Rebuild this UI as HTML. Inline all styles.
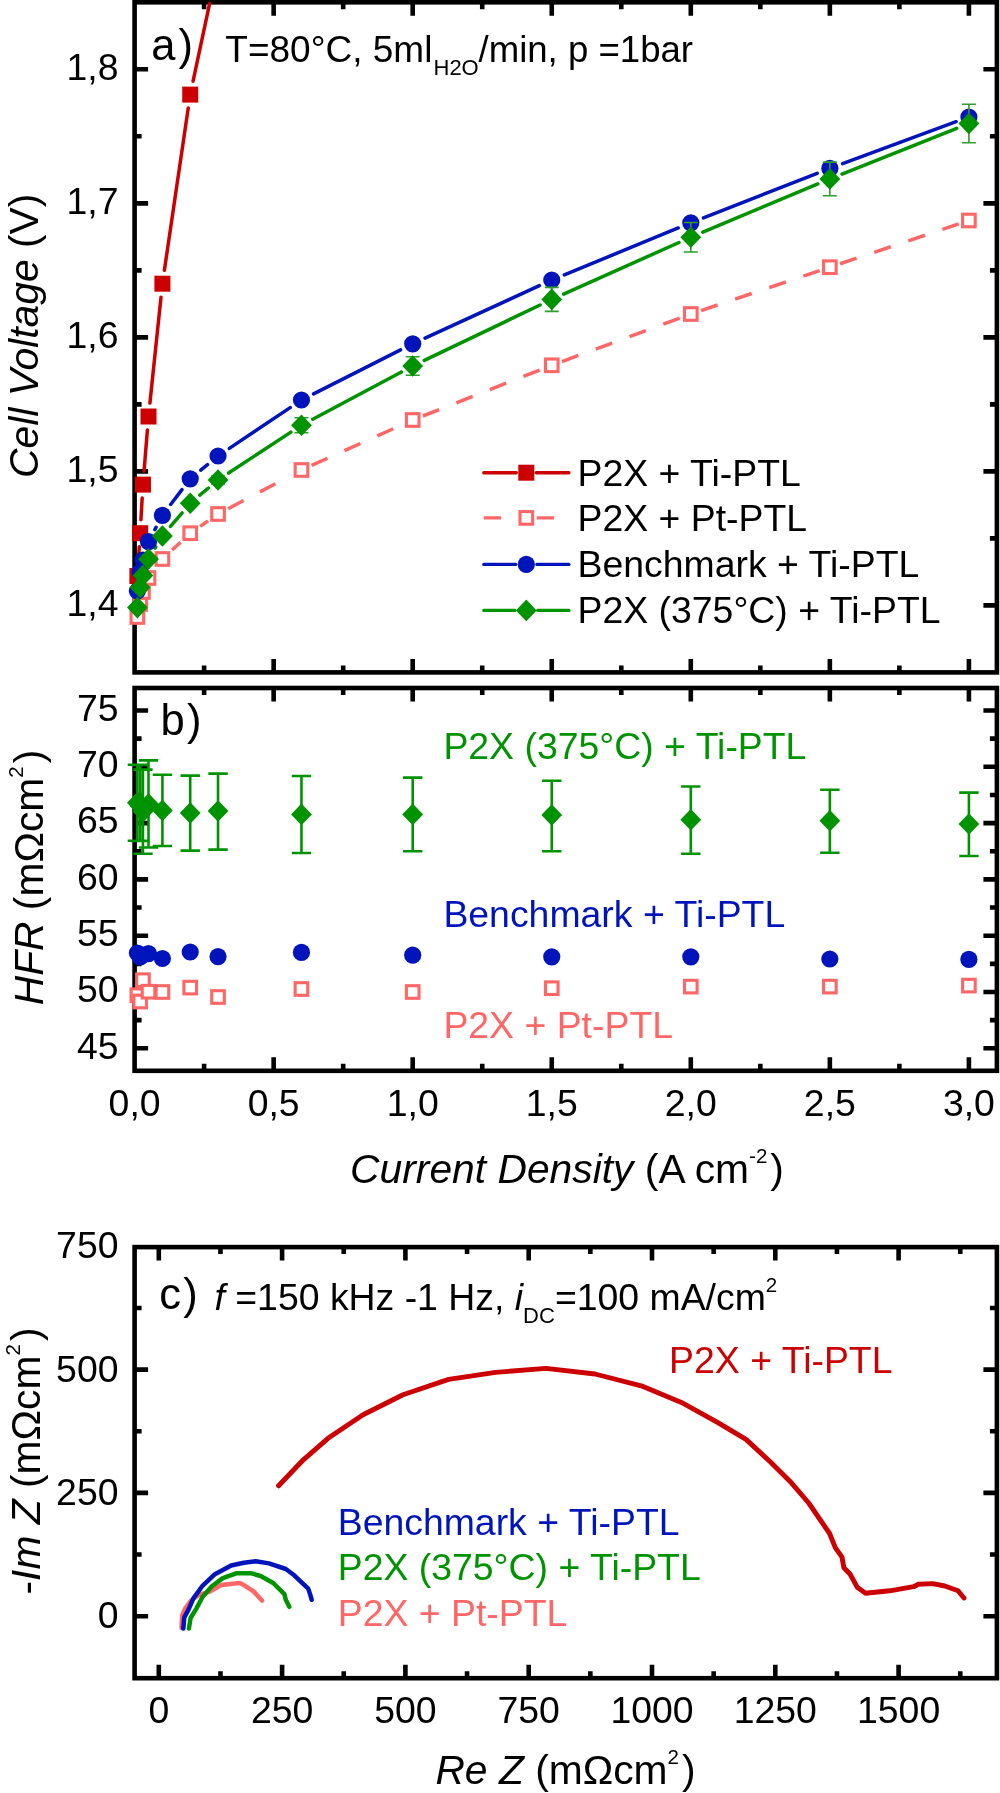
<!DOCTYPE html>
<html><head><meta charset="utf-8"><style>
html,body{margin:0;padding:0;background:#fff;}
svg{display:block;filter:blur(0.45px);}
text{font-family:"Liberation Sans",sans-serif;}
</style></head><body>
<svg width="1000" height="1793" viewBox="0 0 1000 1793">
<rect width="1000" height="1793" fill="#fff"/>
<clipPath id="ca"><rect x="137" y="2.3" width="857.6" height="667.8"/></clipPath>
<path d="M273.65 2.3v13.5M273.65 672.4v-13.5M412.7 2.3v13.5M412.7 672.4v-13.5M551.75 2.3v13.5M551.75 672.4v-13.5M690.8 2.3v13.5M690.8 672.4v-13.5M829.85 2.3v13.5M829.85 672.4v-13.5M968.9 2.3v13.5M968.9 672.4v-13.5M204.12 2.3v7.0M204.12 672.4v-7.0M343.18 2.3v7.0M343.18 672.4v-7.0M482.23 2.3v7.0M482.23 672.4v-7.0M621.28 2.3v7.0M621.28 672.4v-7.0M760.33 2.3v7.0M760.33 672.4v-7.0M899.38 2.3v7.0M899.38 672.4v-7.0" stroke="#000" stroke-width="4.6" fill="none"/>
<rect x="134.6" y="2.3" width="862.3" height="670.1" fill="none" stroke="#000" stroke-width="4.6"/>
<path d="M134.6 605.39h13.5M996.9 605.39h-13.5M134.6 471.37h13.5M996.9 471.37h-13.5M134.6 337.35h13.5M996.9 337.35h-13.5M134.6 203.33h13.5M996.9 203.33h-13.5M134.6 69.31h13.5M996.9 69.31h-13.5M134.6 538.38h7.0M996.9 538.38h-7.0M134.6 404.36h7.0M996.9 404.36h-7.0M134.6 270.34h7.0M996.9 270.34h-7.0M134.6 136.32h7.0M996.9 136.32h-7.0" stroke="#000" stroke-width="4.6" fill="none"/>
<text x="118.5" y="615.69" font-size="37.4" text-anchor="end" fill="#000" >1,4</text>
<text x="118.5" y="481.67" font-size="37.4" text-anchor="end" fill="#000" >1,5</text>
<text x="118.5" y="347.65" font-size="37.4" text-anchor="end" fill="#000" >1,6</text>
<text x="118.5" y="213.63" font-size="37.4" text-anchor="end" fill="#000" >1,7</text>
<text x="118.5" y="79.61" font-size="37.4" text-anchor="end" fill="#000" >1,8</text>
<text transform="translate(37.6 335.8) rotate(-90)" font-size="40.8" text-anchor="middle"><tspan font-style="italic">Cell Voltage</tspan> (V)</text>
<text x="151.3" y="59.7" font-size="43.5">a</text><text x="178.6" y="59.7" font-size="43.5">)</text>
<text x="225.3" y="62" font-size="37">T=80°C, 5ml</text>
<text x="433.5" y="75" font-size="22">H2O</text>
<text x="478.5" y="62" font-size="36.6">/min, p =1bar</text>
<g clip-path="url(#ca)">
<path d="M172.09 550.02L180.54 542.18" stroke="#ff6666" stroke-width="3.5" fill="none" stroke-dasharray="17.5 18.5" stroke-linecap="butt"/>
<path d="M200.13 526.36L208.12 520.84" stroke="#ff6666" stroke-width="3.5" fill="none" stroke-dasharray="17.5 18.5" stroke-linecap="butt"/>
<path d="M228.09 508.69L291.4 475.31" stroke="#ff6666" stroke-width="3.5" fill="none" stroke-dasharray="17.5 18.5" stroke-linecap="butt"/>
<path d="M311.59 465.45L402.57 424.55" stroke="#ff6666" stroke-width="3.5" fill="none" stroke-dasharray="17.5 18.5" stroke-linecap="butt"/>
<path d="M422.88 416L541.57 369.3" stroke="#ff6666" stroke-width="3.5" fill="none" stroke-dasharray="17.5 18.5" stroke-linecap="butt"/>
<path d="M561.95 361.54L680.6 317.76" stroke="#ff6666" stroke-width="3.5" fill="none" stroke-dasharray="17.5 18.5" stroke-linecap="butt"/>
<path d="M701.02 310.56L819.63 270.64" stroke="#ff6666" stroke-width="3.5" fill="none" stroke-dasharray="17.5 18.5" stroke-linecap="butt"/>
<path d="M840.07 263.77L958.68 223.93" stroke="#ff6666" stroke-width="3.5" fill="none" stroke-dasharray="17.5 18.5" stroke-linecap="butt"/>
<path d="M138.26 562.51L139.29 546.69M140.93 519.71L142.17 498.09M144.04 471.12L147.4 429.98M149.92 403.03L161 297.17M164.39 270.26L188.24 108.04M193.07 81.22L215.18 -22.62" stroke="#cc0000" stroke-width="3.5" fill="none" stroke-linecap="round"/>
<path d="M154.84 529.67L156.07 527.33M170.65 504.48L181.98 489.62M200.74 470.18L207.51 464.62M229.32 448.42L290.17 407.58M313.6 393.87L400.56 349.93M425.06 338.13L539.39 285.67M564.33 274.83L678.22 227.97M703.46 217.84L817.19 173.26M842.61 163.59L956.14 121.71" stroke="#0014bb" stroke-width="3.5" fill="none" stroke-linecap="round"/>
<path d="M155.1 548.09L155.81 546.91M170.51 526.44L182.12 512.76M199.83 495.19L208.42 488.01M228.58 473.07L290.91 432.13M312.75 419.19L401.41 372.01M424.33 360.43L540.12 304.97M563.58 294.11L678.97 242.49M702.82 232.16L817.83 183.94M842.01 174.05L956.74 128.35" stroke="#009300" stroke-width="3.5" fill="none" stroke-linecap="round"/>
</g>
<rect x="129.38" y="568" width="16" height="16" fill="#cc0000"/>
<rect x="132.16" y="525.2" width="16" height="16" fill="#cc0000"/>
<rect x="134.94" y="476.6" width="16" height="16" fill="#cc0000"/>
<rect x="140.5" y="408.5" width="16" height="16" fill="#cc0000"/>
<rect x="154.41" y="275.7" width="16" height="16" fill="#cc0000"/>
<rect x="182.22" y="86.6" width="16" height="16" fill="#cc0000"/>
<rect x="210.03" y="-44" width="16" height="16" fill="#cc0000"/>
<rect x="131.08" y="610.7" width="12.6" height="12.6" fill="#fff" stroke="#ff6666" stroke-width="3.1"/>
<rect x="133.86" y="597.7" width="12.6" height="12.6" fill="#fff" stroke="#ff6666" stroke-width="3.1"/>
<rect x="136.64" y="585.7" width="12.6" height="12.6" fill="#fff" stroke="#ff6666" stroke-width="3.1"/>
<rect x="142.2" y="571.7" width="12.6" height="12.6" fill="#fff" stroke="#ff6666" stroke-width="3.1"/>
<rect x="156.11" y="552.7" width="12.6" height="12.6" fill="#fff" stroke="#ff6666" stroke-width="3.1"/>
<rect x="183.92" y="526.9" width="12.6" height="12.6" fill="#fff" stroke="#ff6666" stroke-width="3.1"/>
<rect x="211.73" y="507.7" width="12.6" height="12.6" fill="#fff" stroke="#ff6666" stroke-width="3.1"/>
<rect x="295.16" y="463.7" width="12.6" height="12.6" fill="#fff" stroke="#ff6666" stroke-width="3.1"/>
<rect x="406.4" y="413.7" width="12.6" height="12.6" fill="#fff" stroke="#ff6666" stroke-width="3.1"/>
<rect x="545.45" y="359" width="12.6" height="12.6" fill="#fff" stroke="#ff6666" stroke-width="3.1"/>
<rect x="684.5" y="307.7" width="12.6" height="12.6" fill="#fff" stroke="#ff6666" stroke-width="3.1"/>
<rect x="823.55" y="260.9" width="12.6" height="12.6" fill="#fff" stroke="#ff6666" stroke-width="3.1"/>
<rect x="962.6" y="214.2" width="12.6" height="12.6" fill="#fff" stroke="#ff6666" stroke-width="3.1"/>
<circle cx="137.38" cy="591" r="8.6" fill="#0014bb"/>
<circle cx="140.16" cy="572" r="8.6" fill="#0014bb"/>
<circle cx="142.94" cy="560" r="8.6" fill="#0014bb"/>
<circle cx="148.5" cy="541.7" r="8.6" fill="#0014bb"/>
<circle cx="162.41" cy="515.3" r="8.6" fill="#0014bb"/>
<circle cx="190.22" cy="478.8" r="8.6" fill="#0014bb"/>
<circle cx="218.03" cy="456" r="8.6" fill="#0014bb"/>
<circle cx="301.46" cy="400" r="8.6" fill="#0014bb"/>
<circle cx="412.7" cy="343.8" r="8.6" fill="#0014bb"/>
<circle cx="551.75" cy="280" r="8.6" fill="#0014bb"/>
<circle cx="690.8" cy="222.8" r="8.6" fill="#0014bb"/>
<circle cx="829.85" cy="168.3" r="8.6" fill="#0014bb"/>
<circle cx="968.9" cy="117" r="8.6" fill="#0014bb"/>
<path d="M218.03 476V484M211.03 476h14M211.03 484h14M301.46 417.7V432.7M294.46 417.7h14M294.46 432.7h14M412.7 356.8V375.2M405.7 356.8h14M405.7 375.2h14M551.75 287.4V311.4M544.75 287.4h14M544.75 311.4h14M690.8 222.45V251.95M683.8 222.45h14M683.8 251.95h14M829.85 162.1V195.7M822.85 162.1h14M822.85 195.7h14M968.9 104.25V142.75M961.9 104.25h14M961.9 142.75h14" stroke="#2d9d2d" stroke-width="1.6" fill="none"/>
<path d="M137.38 596.8L147.78 607.6L137.38 618.4L126.98 607.6Z" fill="#009300"/>
<path d="M140.16 576.7L150.56 587.5L140.16 598.3L129.76 587.5Z" fill="#009300"/>
<path d="M142.94 564.7L153.34 575.5L142.94 586.3L132.54 575.5Z" fill="#009300"/>
<path d="M148.5 548.2L158.91 559L148.5 569.8L138.1 559Z" fill="#009300"/>
<path d="M162.41 525.2L172.81 536L162.41 546.8L152.01 536Z" fill="#009300"/>
<path d="M190.22 492.4L200.62 503.2L190.22 514L179.82 503.2Z" fill="#009300"/>
<path d="M218.03 469.2L228.43 480L218.03 490.8L207.63 480Z" fill="#009300"/>
<path d="M301.46 414.4L311.86 425.2L301.46 436L291.06 425.2Z" fill="#009300"/>
<path d="M412.7 355.2L423.1 366L412.7 376.8L402.3 366Z" fill="#009300"/>
<path d="M551.75 288.6L562.15 299.4L551.75 310.2L541.35 299.4Z" fill="#009300"/>
<path d="M690.8 226.4L701.2 237.2L690.8 248L680.4 237.2Z" fill="#009300"/>
<path d="M829.85 168.1L840.25 178.9L829.85 189.7L819.45 178.9Z" fill="#009300"/>
<path d="M968.9 112.7L979.3 123.5L968.9 134.3L958.5 123.5Z" fill="#009300"/>
<path d="M483.8 472.7H516.3M536.3 472.7H568.9" stroke="#cc0000" stroke-width="3.4" stroke-linecap="round"/>
<rect x="518.3" y="464.7" width="16" height="16" fill="#cc0000"/>
<path d="M483.8 517.9H501M536.7 517.9H554" stroke="#ff6666" stroke-width="3.4"/>
<rect x="520" y="511.6" width="12.6" height="12.6" fill="#fff" stroke="#ff6666" stroke-width="3.1"/>
<path d="M483.8 564.4H515.6999999999999M536.9 564.4H568.9" stroke="#0014bb" stroke-width="3.4" stroke-linecap="round"/>
<circle cx="526.3" cy="564.4" r="8.6" fill="#0014bb"/>
<path d="M483.8 610.4H514.9M537.6999999999999 610.4H568.9" stroke="#009300" stroke-width="3.4" stroke-linecap="round"/>
<path d="M526.3 599.6L536.7 610.4L526.3 621.2L515.9 610.4Z" fill="#009300"/>
<text x="577.5" y="485.7" font-size="37.4" text-anchor="start" fill="#000" >P2X + Ti-PTL</text>
<text x="577.5" y="530.9" font-size="37.4" text-anchor="start" fill="#000" >P2X + Pt-PTL</text>
<text x="577.5" y="577.4" font-size="37.4" text-anchor="start" fill="#000" >Benchmark + Ti-PTL</text>
<text x="577.5" y="623.4" font-size="37.4" text-anchor="start" fill="#000" >P2X (375°C) + Ti-PTL</text>
<path d="M273.65 688v13.5M273.65 1070.8v-13.5M412.7 688v13.5M412.7 1070.8v-13.5M551.75 688v13.5M551.75 1070.8v-13.5M690.8 688v13.5M690.8 1070.8v-13.5M829.85 688v13.5M829.85 1070.8v-13.5M968.9 688v13.5M968.9 1070.8v-13.5M204.12 688v7.0M204.12 1070.8v-7.0M343.18 688v7.0M343.18 1070.8v-7.0M482.23 688v7.0M482.23 1070.8v-7.0M621.28 688v7.0M621.28 1070.8v-7.0M760.33 688v7.0M760.33 1070.8v-7.0M899.38 688v7.0M899.38 1070.8v-7.0" stroke="#000" stroke-width="4.6" fill="none"/>
<rect x="134.6" y="688" width="862.3" height="382.8" fill="none" stroke="#000" stroke-width="4.6"/>
<path d="M134.6 1048.29h13.5M996.9 1048.29h-13.5M134.6 991.99h13.5M996.9 991.99h-13.5M134.6 935.7h13.5M996.9 935.7h-13.5M134.6 879.4h13.5M996.9 879.4h-13.5M134.6 823.11h13.5M996.9 823.11h-13.5M134.6 766.81h13.5M996.9 766.81h-13.5M134.6 710.52h13.5M996.9 710.52h-13.5M134.6 1020.14h7.0M996.9 1020.14h-7.0M134.6 963.85h7.0M996.9 963.85h-7.0M134.6 907.55h7.0M996.9 907.55h-7.0M134.6 851.26h7.0M996.9 851.26h-7.0M134.6 794.96h7.0M996.9 794.96h-7.0M134.6 738.67h7.0M996.9 738.67h-7.0" stroke="#000" stroke-width="4.6" fill="none"/>
<text x="118.5" y="1058.59" font-size="37.4" text-anchor="end" fill="#000" >45</text>
<text x="118.5" y="1002.29" font-size="37.4" text-anchor="end" fill="#000" >50</text>
<text x="118.5" y="946" font-size="37.4" text-anchor="end" fill="#000" >55</text>
<text x="118.5" y="889.7" font-size="37.4" text-anchor="end" fill="#000" >60</text>
<text x="118.5" y="833.41" font-size="37.4" text-anchor="end" fill="#000" >65</text>
<text x="118.5" y="777.11" font-size="37.4" text-anchor="end" fill="#000" >70</text>
<text x="118.5" y="720.82" font-size="37.4" text-anchor="end" fill="#000" >75</text>
<text x="134.6" y="1116" font-size="37.4" text-anchor="middle" fill="#000" >0,0</text>
<text x="273.65" y="1116" font-size="37.4" text-anchor="middle" fill="#000" >0,5</text>
<text x="412.7" y="1116" font-size="37.4" text-anchor="middle" fill="#000" >1,0</text>
<text x="551.75" y="1116" font-size="37.4" text-anchor="middle" fill="#000" >1,5</text>
<text x="690.8" y="1116" font-size="37.4" text-anchor="middle" fill="#000" >2,0</text>
<text x="829.85" y="1116" font-size="37.4" text-anchor="middle" fill="#000" >2,5</text>
<text x="968.9" y="1116" font-size="37.4" text-anchor="middle" fill="#000" >3,0</text>
<text x="567" y="1183" font-size="40.8" text-anchor="middle"><tspan font-style="italic">Current Density</tspan> (A cm<tspan font-size="20.5" dy="-20">-2</tspan><tspan dy="20" dx="3">)</tspan></text>
<text transform="translate(42.5 877.5) rotate(-90)" font-size="40.8" text-anchor="middle"><tspan font-style="italic">HFR</tspan> (mΩcm<tspan font-size="20.5" dy="-20">2</tspan><tspan dy="20" dx="3">)</tspan></text>
<text x="160.5" y="734.8" font-size="43.5">b</text><text x="187.1" y="734.8" font-size="43.5">)</text>
<text x="443.4" y="759.3" font-size="37.4" text-anchor="start" fill="#009300" >P2X (375°C) + Ti-PTL</text>
<text x="443.4" y="927.2" font-size="37.4" text-anchor="start" fill="#0014bb" >Benchmark + Ti-PTL</text>
<text x="443.4" y="1038.4" font-size="37.4" text-anchor="start" fill="#ff6666" >P2X + Pt-PTL</text>
<clipPath id="cb"><rect x="126" y="690.3" width="868.3" height="378.2"/></clipPath>
<g clip-path="url(#cb)">
<rect x="131.08" y="988.9" width="12.6" height="12.6" fill="#fff" stroke="#ff6666" stroke-width="3.1"/>
<rect x="133.86" y="995.2" width="12.6" height="12.6" fill="#fff" stroke="#ff6666" stroke-width="3.1"/>
<rect x="136.64" y="973.9" width="12.6" height="12.6" fill="#fff" stroke="#ff6666" stroke-width="3.1"/>
<rect x="142.2" y="985.4" width="12.6" height="12.6" fill="#fff" stroke="#ff6666" stroke-width="3.1"/>
<rect x="156.11" y="985.7" width="12.6" height="12.6" fill="#fff" stroke="#ff6666" stroke-width="3.1"/>
<rect x="183.92" y="981.3" width="12.6" height="12.6" fill="#fff" stroke="#ff6666" stroke-width="3.1"/>
<rect x="211.73" y="990.7" width="12.6" height="12.6" fill="#fff" stroke="#ff6666" stroke-width="3.1"/>
<rect x="295.16" y="982.7" width="12.6" height="12.6" fill="#fff" stroke="#ff6666" stroke-width="3.1"/>
<rect x="406.4" y="985.7" width="12.6" height="12.6" fill="#fff" stroke="#ff6666" stroke-width="3.1"/>
<rect x="545.45" y="981.9" width="12.6" height="12.6" fill="#fff" stroke="#ff6666" stroke-width="3.1"/>
<rect x="684.5" y="980.3" width="12.6" height="12.6" fill="#fff" stroke="#ff6666" stroke-width="3.1"/>
<rect x="823.55" y="980.3" width="12.6" height="12.6" fill="#fff" stroke="#ff6666" stroke-width="3.1"/>
<rect x="962.6" y="979.3" width="12.6" height="12.6" fill="#fff" stroke="#ff6666" stroke-width="3.1"/>
<circle cx="137.38" cy="953" r="8.6" fill="#0014bb"/>
<circle cx="140.16" cy="957" r="8.6" fill="#0014bb"/>
<circle cx="142.94" cy="955" r="8.6" fill="#0014bb"/>
<circle cx="148.5" cy="953.6" r="8.6" fill="#0014bb"/>
<circle cx="162.41" cy="958.5" r="8.6" fill="#0014bb"/>
<circle cx="190.22" cy="952" r="8.6" fill="#0014bb"/>
<circle cx="218.03" cy="956.6" r="8.6" fill="#0014bb"/>
<circle cx="301.46" cy="952.4" r="8.6" fill="#0014bb"/>
<circle cx="412.7" cy="955.2" r="8.6" fill="#0014bb"/>
<circle cx="551.75" cy="956.8" r="8.6" fill="#0014bb"/>
<circle cx="690.8" cy="956.8" r="8.6" fill="#0014bb"/>
<circle cx="829.85" cy="959" r="8.6" fill="#0014bb"/>
<circle cx="968.9" cy="959.4" r="8.6" fill="#0014bb"/>
<path d="M137.38 764.7V840.8M127.68 764.7h19.4M127.68 840.8h19.4M140.16 765V841M130.46 765h19.4M130.46 841h19.4M142.94 769.6V853.7M133.24 769.6h19.4M133.24 853.7h19.4M148.5 760.4V847.5M138.81 760.4h19.4M138.81 847.5h19.4M162.41 774.8V846M152.71 774.8h19.4M152.71 846h19.4M190.22 775.6V850.6M180.52 775.6h19.4M180.52 850.6h19.4M218.03 773.6V849.6M208.33 773.6h19.4M208.33 849.6h19.4M301.46 776V853M291.76 776h19.4M291.76 853h19.4M412.7 777.6V851.2M403 777.6h19.4M403 851.2h19.4M551.75 780.8V851.2M542.05 780.8h19.4M542.05 851.2h19.4M690.8 786.5V853.8M681.1 786.5h19.4M681.1 853.8h19.4M829.85 789.8V852.8M820.15 789.8h19.4M820.15 852.8h19.4M968.9 792.6V856M959.2 792.6h19.4M959.2 856h19.4" stroke="#009300" stroke-width="2.6" fill="none"/>
<path d="M137.38 791.95L147.78 802.75L137.38 813.55L126.98 802.75Z" fill="#009300"/>
<path d="M140.16 795.2L150.56 806L140.16 816.8L129.76 806Z" fill="#009300"/>
<path d="M142.94 800.8L153.34 811.6L142.94 822.4L132.54 811.6Z" fill="#009300"/>
<path d="M148.5 793.2L158.91 804L148.5 814.8L138.1 804Z" fill="#009300"/>
<path d="M162.41 799.6L172.81 810.4L162.41 821.2L152.01 810.4Z" fill="#009300"/>
<path d="M190.22 802.2L200.62 813L190.22 823.8L179.82 813Z" fill="#009300"/>
<path d="M218.03 800.2L228.43 811L218.03 821.8L207.63 811Z" fill="#009300"/>
<path d="M301.46 803.6L311.86 814.4L301.46 825.2L291.06 814.4Z" fill="#009300"/>
<path d="M412.7 803.6L423.1 814.4L412.7 825.2L402.3 814.4Z" fill="#009300"/>
<path d="M551.75 804.2L562.15 815L551.75 825.8L541.35 815Z" fill="#009300"/>
<path d="M690.8 809L701.2 819.8L690.8 830.6L680.4 819.8Z" fill="#009300"/>
<path d="M829.85 810L840.25 820.8L829.85 831.6L819.45 820.8Z" fill="#009300"/>
<path d="M968.9 813.2L979.3 824L968.9 834.8L958.5 824Z" fill="#009300"/>
</g>
<path d="M158.8 1247.1v13.5M158.8 1678.2v-13.5M282.1 1247.1v13.5M282.1 1678.2v-13.5M405.4 1247.1v13.5M405.4 1678.2v-13.5M528.7 1247.1v13.5M528.7 1678.2v-13.5M652 1247.1v13.5M652 1678.2v-13.5M775.3 1247.1v13.5M775.3 1678.2v-13.5M898.6 1247.1v13.5M898.6 1678.2v-13.5M220.45 1247.1v7.0M220.45 1678.2v-7.0M343.75 1247.1v7.0M343.75 1678.2v-7.0M467.05 1247.1v7.0M467.05 1678.2v-7.0M590.35 1247.1v7.0M590.35 1678.2v-7.0M713.65 1247.1v7.0M713.65 1678.2v-7.0M836.95 1247.1v7.0M836.95 1678.2v-7.0M960.25 1247.1v7.0M960.25 1678.2v-7.0" stroke="#000" stroke-width="4.6" fill="none"/>
<rect x="134.6" y="1247.1" width="862.3" height="431.1" fill="none" stroke="#000" stroke-width="4.6"/>
<path d="M134.6 1616.2h13.5M996.9 1616.2h-13.5M134.6 1492.9h13.5M996.9 1492.9h-13.5M134.6 1369.6h13.5M996.9 1369.6h-13.5M134.6 1554.55h7.0M996.9 1554.55h-7.0M134.6 1431.25h7.0M996.9 1431.25h-7.0M134.6 1307.95h7.0M996.9 1307.95h-7.0" stroke="#000" stroke-width="4.6" fill="none"/>
<text x="118.5" y="1628.1" font-size="37.4" text-anchor="end" fill="#000" >0</text>
<text x="118.5" y="1504.8" font-size="37.4" text-anchor="end" fill="#000" >250</text>
<text x="118.5" y="1381.5" font-size="37.4" text-anchor="end" fill="#000" >500</text>
<text x="118.5" y="1258.2" font-size="37.4" text-anchor="end" fill="#000" >750</text>
<text x="158.8" y="1722.5" font-size="37.4" text-anchor="middle" fill="#000" >0</text>
<text x="282.1" y="1722.5" font-size="37.4" text-anchor="middle" fill="#000" >250</text>
<text x="405.4" y="1722.5" font-size="37.4" text-anchor="middle" fill="#000" >500</text>
<text x="528.7" y="1722.5" font-size="37.4" text-anchor="middle" fill="#000" >750</text>
<text x="652" y="1722.5" font-size="37.4" text-anchor="middle" fill="#000" >1000</text>
<text x="775.3" y="1722.5" font-size="37.4" text-anchor="middle" fill="#000" >1250</text>
<text x="898.6" y="1722.5" font-size="37.4" text-anchor="middle" fill="#000" >1500</text>
<text x="565.5" y="1784" font-size="40.8" text-anchor="middle"><tspan font-style="italic">Re Z</tspan> (mΩcm<tspan font-size="20.5" dy="-20">2</tspan><tspan dy="20" dx="3">)</tspan></text>
<text transform="translate(40 1461) rotate(-90)" font-size="40.8" text-anchor="middle">-<tspan font-style="italic">Im Z</tspan> (mΩcm<tspan font-size="20.5" dy="-20">2</tspan><tspan dy="20" dx="3">)</tspan></text>
<text x="159.2" y="1309" font-size="43.5">c</text><text x="183.3" y="1309" font-size="43.5">)</text>
<text x="214.5" y="1310" font-size="37.4"><tspan font-style="italic">f</tspan> =150 kHz -1 Hz, <tspan font-style="italic">i</tspan><tspan font-size="22" dy="13">DC</tspan><tspan dy="-13">=100 mA/cm</tspan><tspan font-size="20.5" dy="-18">2</tspan></text>
<text x="669.1" y="1373" font-size="37.4" text-anchor="start" fill="#cc0000" >P2X + Ti-PTL</text>
<text x="337.7" y="1534.5" font-size="37.4" text-anchor="start" fill="#0014bb" >Benchmark + Ti-PTL</text>
<text x="337.7" y="1579.7" font-size="37.4" text-anchor="start" fill="#009300" >P2X (375°C) + Ti-PTL</text>
<text x="337.7" y="1625.5" font-size="37.4" text-anchor="start" fill="#ff6666" >P2X + Pt-PTL</text>
<path d="M181.5 1627.8L182.2 1615.2L185.5 1608L191 1600.5L199 1595L210.2 1591.4L221.4 1585.1L239.6 1583L243.8 1585.1L253.6 1591.4L262 1600.5" stroke="#ff6666" stroke-width="4.5" fill="none" stroke-linecap="round" stroke-linejoin="round"/>
<path d="M188.9 1628.5L190.6 1618L196.2 1608.9L202.5 1597L211.6 1586.5L222.8 1578.1L236.8 1573.2L250.8 1573.2L260.6 1576L273.2 1583L284.4 1594.2L285.8 1599.8L289.3 1606.8" stroke="#009300" stroke-width="4.5" fill="none" stroke-linecap="round" stroke-linejoin="round"/>
<path d="M183.3 1628.5L184.3 1617.3L188.5 1609.6L193.4 1598.4L202.5 1585.8L214.4 1574.6L231.2 1565.5L243.8 1562.7L255.7 1561.3L269 1563.4L285.8 1569L294.2 1575.3L308.2 1588.6L310.3 1594.9L311.7 1599.8" stroke="#0014bb" stroke-width="4.5" fill="none" stroke-linecap="round" stroke-linejoin="round"/>
<path d="M278.6 1485.8L303.3 1459.8L328 1438.3L363.1 1414.7L403 1394.8L448.6 1379.4L495.6 1372.4L546 1368.4L595 1374L641.2 1385.8L681.4 1402.4L717.5 1422.3L746 1439.4L770.7 1462.2L791.6 1483.1L808.7 1503L829.6 1533.5L835.3 1547.7L842 1557.2L843.9 1567.7L850 1574L857.2 1587.2L865.6 1593.2L889.6 1590.8L896.8 1589.6L913.6 1586.7L918.4 1584.3L932.8 1583.6L944.8 1586L958 1590.8L964 1598" stroke="#cc0000" stroke-width="4.9" fill="none" stroke-linecap="round" stroke-linejoin="round"/>
</svg>
</body></html>
